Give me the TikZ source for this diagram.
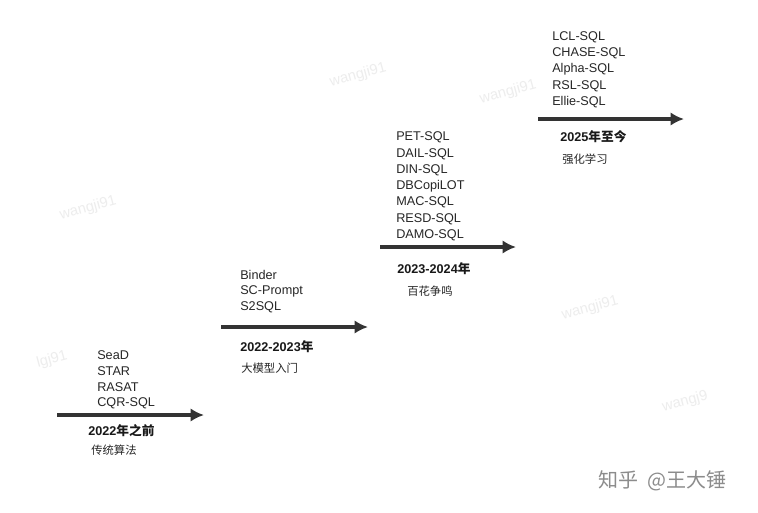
\documentclass[tikz,border=0pt]{standalone}
\usepackage{fontspec}
\usetikzlibrary{arrows.meta}
\setmainfont{Liberation Sans}
\newfontfamily\cjk{Noto Sans CJK SC}
\begin{document}
\begin{tikzpicture}[x=0.75pt,y=-0.75pt,
  era/.style={draw=black!80,line width=3pt,-{Latex[length=10pt,width=10pt]}},
  item/.style={anchor=west,inner sep=0,font=\fontsize{9.5pt}{11pt}\selectfont,text=black!85},
  yr/.style={anchor=west,inner sep=0,font=\fontsize{9.5pt}{11pt}\selectfont\bfseries,text=black!90},
  sub/.style={anchor=west,inner sep=0,font=\cjk\fontsize{8.5pt}{10pt}\selectfont,text=black!85},
  wm/.style={inner sep=0,font=\fontsize{11pt}{12pt}\selectfont,text=black!7,rotate=15}]
\useasboundingbox (0,0) rectangle (758,512);
\fill[white] (0,0) rectangle (758,512);
\node[wm] (w1) at (358,75) {wangji91};
\node[wm] (w2) at (508,92) {wangji91};
\node[wm] (w3) at (88,208) {wangji91};
\node[wm] (w4) at (590,308) {wangji91};
\node[wm] (w5) at (52,360) {lgj91};
\node[wm] (w6) at (685,402) {wangj9};
% era 1
\coordinate (a1) at (57,415); \coordinate (b1) at (204,415);
\draw[era] (a1) -- (b1);
\node[item] (s1) at (97,355) {SeaD};
\node[item] (s2) at (97,371) {STAR};
\node[item] (s3) at (97,387) {RASAT};
\node[item] (s4) at (97,403) {CQR-SQL};
\node[yr] (y1) at (88,431) {2022\cjk{年之前}};
\node[sub] (t1) at (91,450) {传统算法};
% era 2
\coordinate (a2) at (221,327); \coordinate (b2) at (368,327);
\draw[era] (a2) -- (b2);
\node[item] (p1) at (240,275) {Binder};
\node[item] (p2) at (240,291) {SC-Prompt};
\node[item] (p3) at (240,307) {S2SQL};
\node[yr] (y2) at (240,347) {2022-2023\cjk{年}};
\node[sub] (t2) at (241,368) {大模型入门};
% era 3
\coordinate (a3) at (380,247); \coordinate (b3) at (516,247);
\draw[era] (a3) -- (b3);
\node[item] (q1) at (396,137) {PET-SQL};
\node[item] (q2) at (396,154) {DAIL-SQL};
\node[item] (q3) at (396,170) {DIN-SQL};
\node[item] (q4) at (396,186) {DBCopiLOT};
\node[item] (q5) at (396,202) {MAC-SQL};
\node[item] (q6) at (396,219) {RESD-SQL};
\node[item] (q7) at (396,235) {DAMO-SQL};
\node[yr] (y3) at (397,269) {2023-2024\cjk{年}};
\node[sub] (t3) at (407,291) {百花争鸣};
% era 4
\coordinate (a4) at (538,119); \coordinate (b4) at (684,119);
\draw[era] (a4) -- (b4);
\node[item] (r1) at (552,37) {LCL-SQL};
\node[item] (r2) at (552,53) {CHASE-SQL};
\node[item] (r3) at (552,69) {Alpha-SQL};
\node[item] (r4) at (552,86) {RSL-SQL};
\node[item] (r5) at (552,102) {Ellie-SQL};
\node[yr] (y4) at (560,137) {2025\cjk{年至今}};
\node[sub] (t4) at (562,159) {强化学习};
\node[anchor=west,inner sep=0,font=\cjk\fontsize{15pt}{17pt}\selectfont,text=black!45] (zh) at (598,481) {知乎 \ @王大锤};
\end{tikzpicture}
\end{document}
